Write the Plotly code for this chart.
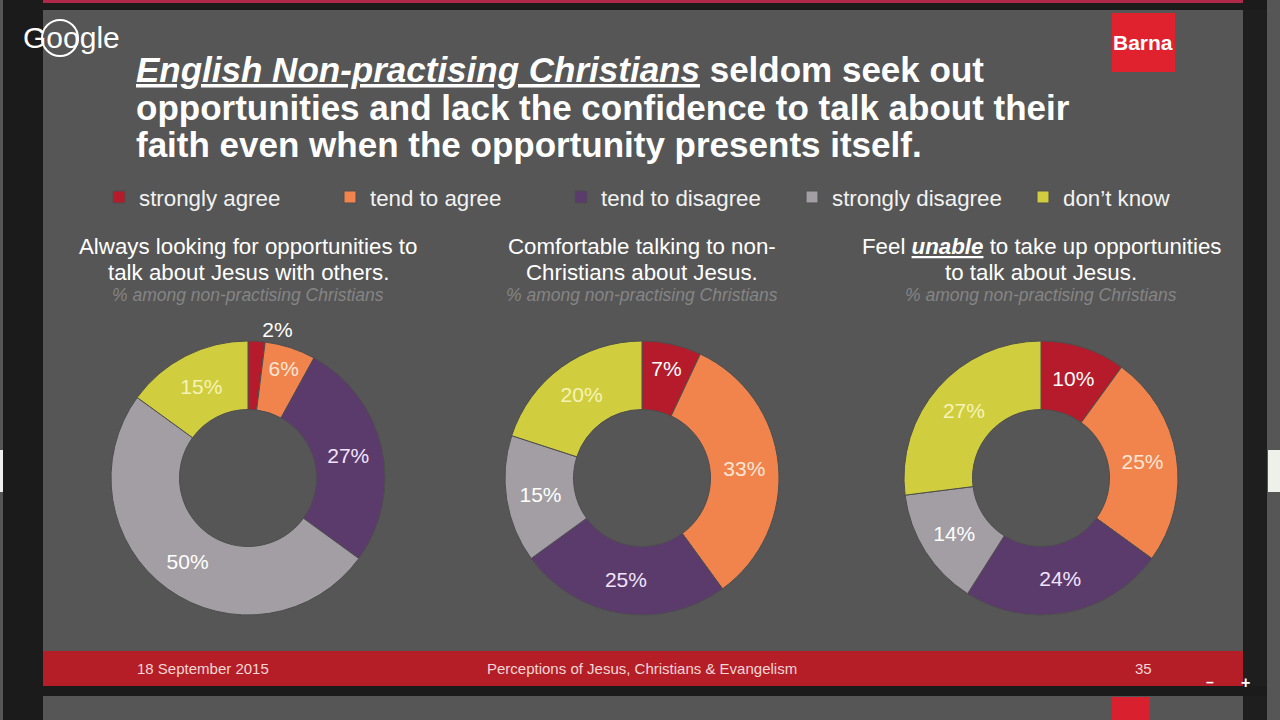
import plotly.graph_objects as go

# ---------------- data ----------------
categories = ["strongly agree", "tend to agree", "tend to disagree", "strongly disagree", "don\u2019t know"]
colors = ["#B51B2B", "#F0844C", "#5B3A6C", "#A29EA3", "#D0CE3F"]
text_colors = ["#FFFFFF", "#FFE6D6", "#F2E4FF", "#FFFFFF", "#F6F3B8"]

looking_values = [2, 6, 27, 50, 15]
comfortable_values = [7, 33, 25, 15, 20]
unable_values = [10, 25, 24, 14, 27]

chart_title_lines = [
    ["Always looking for opportunities to", "talk about Jesus with others."],
    ["Comfortable talking to non-", "Christians about Jesus."],
    ["Feel <b><i><u>unable</u></i></b> to take up opportunities", "to talk about Jesus."],
]
chart_sub = "% among non-practising Christians"
series = [looking_values, comfortable_values, unable_values]

headline_lines = [
    "<b><i><u>English Non-practising Christians</u></i> seldom seek out</b>",
    "<b>opportunities and lack the confidence to talk about their</b>",
    "<b>faith even when the opportunity presents itself.</b>",
]
footer_date = "18 September 2015"
footer_title = "Perceptions of Jesus, Christians & Evangelism"
footer_page = "35"

# ---------------- layout helpers ----------------
W, H = 1280, 720
def px(x):
    return x / W
def py(y):
    return 1 - y / H

centers = [248, 642, 1041]
cy = 478
R = 137

FONT = "Liberation Sans, Arial, sans-serif"

fig = go.Figure()
for i, vals in enumerate(series):
    cx = centers[i]
    tpos = ["outside" if v < 4 else "inside" for v in vals]
    fig.add_trace(go.Pie(
        labels=categories,
        values=vals,
        sort=False,
        direction="clockwise",
        rotation=0,
        hole=0.5,
        marker=dict(colors=colors, line=dict(color="#4E4E4E", width=1)),
        texttemplate="%{value}%",
        textposition=tpos,
        insidetextorientation="horizontal",
        textfont=dict(family=FONT, size=21, color=text_colors),
        outsidetextfont=dict(family=FONT, size=21, color="#FFFFFF"),
        domain=dict(x=[px(cx - R), px(cx + R)], y=[py(cy + R), py(cy - R)]),
        showlegend=(i == 0),
        hoverinfo="label+value",
    ))

shapes = []
def rect(x0, x1, y0, y1, color):
    shapes.append(dict(type="rect", xref="paper", yref="paper", x0=px(x0), x1=px(x1),
                       y0=py(y1), y1=py(y0), fillcolor=color, line=dict(width=0), layer="below"))

# window frame
rect(3, 43, 0, 720, "#1B1B1B")
rect(1243, 1267, 0, 720, "#1E1E1E")
rect(3, 1267, 0, 10, "#1B1B1B")
rect(43, 1243, 0, 3, "#B0284A")
rect(3, 1267, 686, 696, "#1B1B1B")
rect(1112, 1150, 697, 720, "#D9202E")
# footer bar
rect(43, 1243, 651, 686, "#B51E27")
# Barna logo box
rect(1112, 1175, 13, 72, "#E0222F")
# side tabs
rect(0, 3, 450, 492, "#EEEEEE")
rect(1268, 1280, 450, 492, "#EEF0EA")
# google logo circle
shapes.append(dict(type="circle", xref="paper", yref="paper", x0=px(42), x1=px(78), y0=py(56), y1=py(20),
                   line=dict(color="#FFFFFF", width=2), fillcolor="rgba(0,0,0,0)"))

ann = []
def text(t, x, y, size, color="#FFFFFF", xanchor="center", family=FONT):
    ann.append(dict(text=t, x=px(x), y=py(y), xanchor=xanchor, yanchor="middle",
                    font=dict(family=family, size=size, color=color), showarrow=False,
                    xref="paper", yref="paper"))

for line, y in zip(headline_lines, [70, 107, 145]):
    text(line, 134, y, 35, xanchor="left")

for i, lines in enumerate(chart_title_lines):
    text(lines[0], centers[i], 246, 22.3)
    text(lines[1], centers[i], 272, 22.3)
    text("<i>" + chart_sub + "</i>", centers[i], 295, 17.5, color="#858585")

text(footer_date, 135, 668, 15, color="#F2D6D6", xanchor="left")
text(footer_title, 642, 668, 15, color="#F2D6D6")
text(footer_page, 1143, 668, 15, color="#F2D6D6")
text("<b>Barna</b>", 1143, 42, 21)
text("Google", 21, 37, 30, xanchor="left")
text("<b>\u2013</b>", 1210, 682, 14)
text("<b>+</b>", 1245, 682, 16)

fig.update_layout(
    width=W, height=H,
    margin=dict(l=0, r=0, t=0, b=0),
    paper_bgcolor="#565656",
    plot_bgcolor="#565656",
    font=dict(family=FONT, color="#FFFFFF"),
    shapes=shapes,
    annotations=ann,
    legend=dict(
        orientation="h",
        x=px(99), y=py(197), xanchor="left", yanchor="middle",
        font=dict(family=FONT, size=22.3, color="#F2F2F2"),
        bgcolor="rgba(0,0,0,0)",
        entrywidth=186, entrywidthmode="pixels",
        traceorder="normal",
        itemclick=False, itemdoubleclick=False,
    ),
)

fig.write_html("out.html")
